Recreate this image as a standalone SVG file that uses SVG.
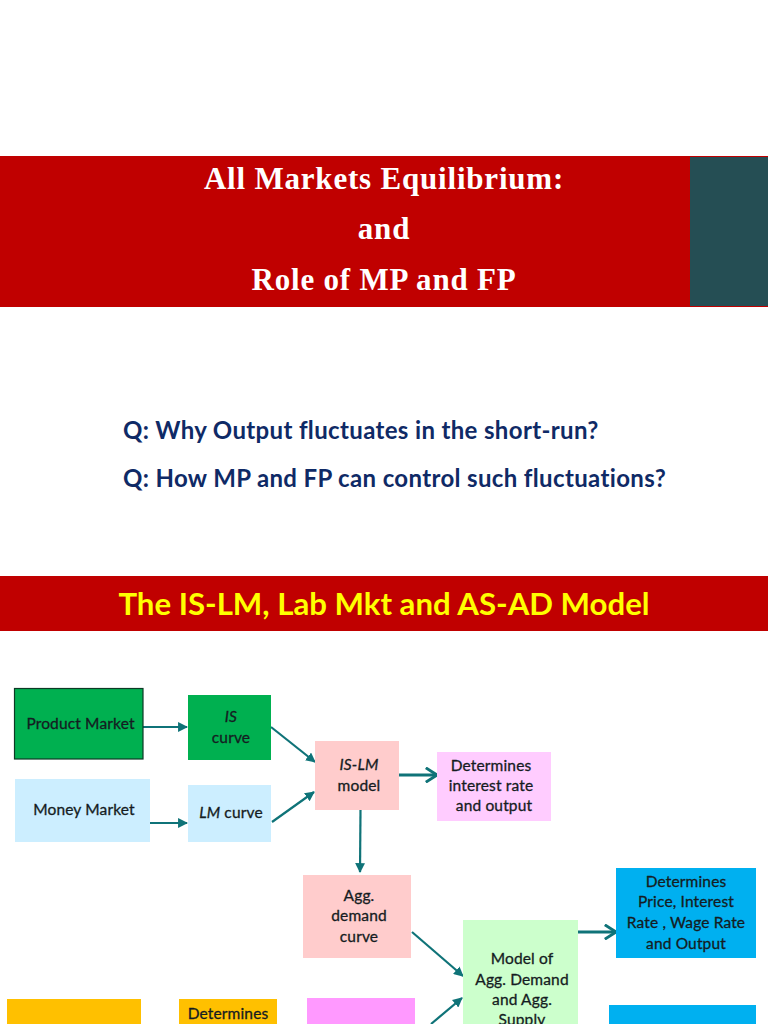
<svg xmlns="http://www.w3.org/2000/svg" width="768" height="1024" viewBox="0 0 768 1024">
<style>
.box{font-family:Lato,"Open Sans","Liberation Sans",sans-serif;font-size:15.500px;letter-spacing:.15px;fill:#151c22;text-anchor:middle;stroke:#151c22;stroke-width:.3}
.c{stroke:#0f7378;fill:none;stroke-width:2.2}
.t{stroke-width:3.200}
.h{font-family:"Liberation Serif",serif;font-weight:bold;font-size:31px;fill:#fff;text-anchor:middle;letter-spacing:.8px}
.q{font-family:Lato,"Open Sans","Liberation Sans",sans-serif;font-weight:bold;font-size:24px;letter-spacing:.35px;fill:#0f2a66}
</style>
<defs>
<marker id="a" viewBox="0 0 10 10" refX="9" refY="5" markerWidth="4.500" markerHeight="4.500" orient="auto"><path d="M0 0L10 5L0 10z" fill="#0f7378"/></marker>
<marker id="o" viewBox="0 0 10 10" refX="9" refY="5" markerWidth="5" markerHeight="5" orient="auto"><path d="M2 0.500L9 5L2 9.500" fill="none" stroke="#0f7378" stroke-width="1.800"/></marker>
</defs>
<rect width="768" height="1024" fill="#fff"/>
<g id="title"><rect y="156" width="768" height="151" fill="#c00000"/><rect x="690" y="157" width="78" height="149" fill="#254e54"/>
<text class="h" x="384" y="189">All Markets Equilibrium:</text><text class="h" x="384" y="239">and</text><text class="h" x="384" y="290">Role of MP and FP</text></g>
<g id="questions"><text class="q" x="123" y="439">Q: Why Output fluctuates in the short-run?</text><text class="q" x="123" y="487">Q: How MP and FP can control such fluctuations?</text></g>
<g id="banner"><rect y="576" width="768" height="55" fill="#c00000"/><text x="384" y="615" text-anchor="middle" font-family="Lato,Open Sans,Liberation Sans,sans-serif" font-weight="bold" font-size="31.200" fill="#ffff00">The IS-LM, Lab Mkt and AS-AD Model</text></g>
<g id="connectors">
<path class="c" marker-end="url(#a)" d="M143 727H187"/>
<path class="c" marker-end="url(#a)" d="M150 823H187"/>
<path class="c" marker-end="url(#a)" d="M271 727L315 762"/>
<path class="c" marker-end="url(#a)" d="M272 822L314 792"/>
<path class="c t" marker-end="url(#o)" d="M399 775H437"/>
<path class="c" marker-end="url(#a)" d="M360.500 810L360 872"/>
<path class="c" marker-end="url(#a)" d="M412 932L463 976"/>
<path class="c" marker-end="url(#a)" d="M431 1024L462 998"/>
<path class="c t" marker-end="url(#o)" d="M578 932H616"/>
</g>
<g id="n1"><rect x="14.500" y="688.500" width="128.500" height="70.500" fill="#00b050" stroke="#0c3a25" stroke-width="1.200"/><text class="box" x="80.500" y="729">Product Market</text></g>
<g id="n2"><rect x="188" y="695" width="83" height="65" fill="#00b050"/><text class="box" x="231" y="722" font-style="italic">IS</text><text class="box" x="231" y="743">curve</text></g>
<g id="n3"><rect x="15" y="779" width="135" height="63" fill="#cceeff"/><text class="box" x="84" y="815">Money Market</text></g>
<g id="n4"><rect x="188" y="785" width="83" height="57" fill="#cceeff"/><text class="box" x="231" y="818"><tspan font-style="italic">LM</tspan> curve</text></g>
<g id="n5"><rect x="315" y="741" width="84" height="69" fill="#ffcccc"/><text class="box" x="359" y="770" font-style="italic">IS-LM</text><text class="box" x="359" y="791">model</text></g>
<g id="n6"><rect x="437" y="752" width="114" height="69" fill="#ffccff"/><text class="box" x="491" y="771">Determines</text><text class="box" x="491" y="791">interest rate</text><text class="box" x="494" y="811">and output</text></g>
<g id="n7"><rect x="303" y="875" width="108" height="83" fill="#ffcccc"/><text class="box" x="359" y="901">Agg.</text><text class="box" x="359" y="921">demand</text><text class="box" x="359" y="942">curve</text></g>
<g id="n8"><rect x="463" y="920" width="115" height="104" fill="#ccffcc"/><text class="box" x="522" y="964">Model of</text><text class="box" x="522" y="985">Agg. Demand</text><text class="box" x="522" y="1005">and Agg.</text><text class="box" x="522" y="1025">Supply</text></g>
<g id="n9"><rect x="616" y="868" width="140" height="90" fill="#00b0f0"/><text class="box" x="686" y="887">Determines</text><text class="box" x="686" y="907">Price, Interest</text><text class="box" x="686" y="928">Rate , Wage Rate</text><text class="box" x="686" y="949">and Output</text></g>
<g id="n10"><rect x="609" y="1005" width="147" height="19" fill="#00b0f0"/></g>
<g id="n11"><rect x="7" y="999" width="134" height="25" fill="#ffc000"/></g>
<g id="n12"><rect x="179" y="999" width="98" height="25" fill="#ffc000"/><text class="box" x="228" y="1019">Determines</text></g>
<g id="n13"><rect x="307" y="998" width="108" height="26" fill="#ff99ff"/></g>
</svg>
